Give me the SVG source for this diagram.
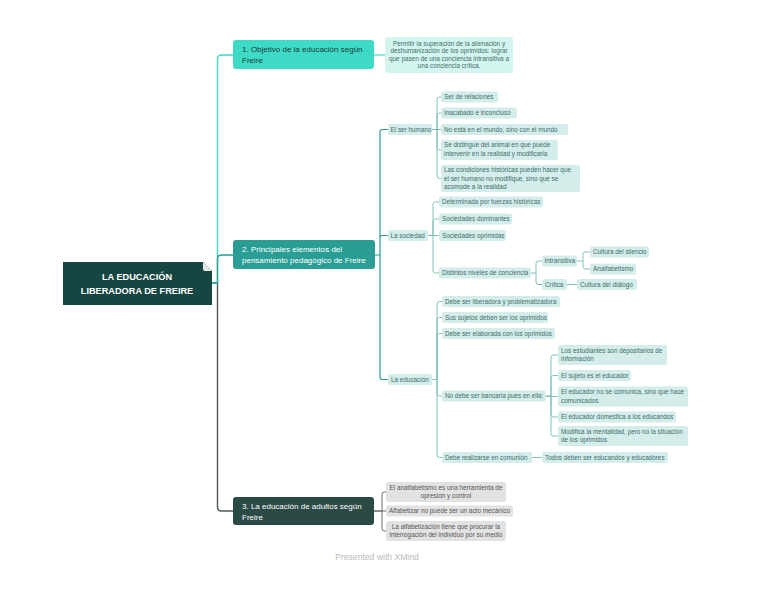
<svg xmlns="http://www.w3.org/2000/svg" width="768" height="594" viewBox="0 0 768 594">
<style>
.t{font-family:"Liberation Sans",Arial,sans-serif;font-size:6.35px;fill:#3d6f6b}
.tc{text-anchor:middle}
.sub{fill:#d4ecea}
.gr{fill:#e2e2e2}
.gt{font-family:"Liberation Sans",Arial,sans-serif;font-size:6.4px;fill:#555;text-anchor:middle}
.main{font-family:"Liberation Sans",Arial,sans-serif;font-size:8px}
.rt{font-family:"Liberation Sans",Arial,sans-serif;font-size:9.2px;font-weight:bold;fill:#ffffff;text-anchor:middle}
.c2{fill:none;stroke:#74bbb5;stroke-width:0.9}
.c3{fill:none;stroke:#5a5f5e;stroke-width:0.9}
</style>
<rect width="768" height="594" fill="#ffffff"/>
<g id="connectors">
<path d="M212,283 H217.5 V507 Q217.5,511 221.5,511 H233" fill="none" stroke="#4d5856" stroke-width="1.4"/>
<path d="M212,283 H217.5 V59 Q217.5,55 221.5,55 H233" fill="none" stroke="#3ddac6" stroke-width="1.4"/>
<path d="M212,283 H217.5 V259 Q217.5,255 221.5,255 H233" fill="none" stroke="#2a9d95" stroke-width="1.4"/>
<path d="M374,55 H385" fill="none" stroke="#3ddac6" stroke-width="1.2"/>
<path d="M375,255 H380 V132 Q380,129.5 382.5,129.5 H388 M375,255 H380 V238 Q380,235.5 382.5,235.5 H388 M375,255 H380 V377 Q380,379.5 382.5,379.5 H388" fill="none" stroke="#2a9d95" stroke-width="1.2"/>
<path class="c2" d="M432,129.5 H437 V99.5 Q437,97 439.5,97 H441 M437,129.5 V115.5 Q437,113 439.5,113 H441 M432,129.5 H441 M437,129.5 V147.5 Q437,150 439.5,150 H441 M437,129.5 V176 Q437,178.5 439.5,178.5 H441"/>
<path class="c2" d="M428,235.5 H433 V204.5 Q433,202 435.5,202 H439 M433,235.5 V221.5 Q433,219 435.5,219 H439 M428,235.5 H439 M433,235.5 V270.5 Q433,273 435.5,273 H439"/>
<path class="c2" d="M530,273 H536 V263.5 Q536,261 538.5,261 H542 M536,273 V282 Q536,284.5 538.5,284.5 H542"/>
<path class="c2" d="M577,261 H583 V254.5 Q583,252 585.5,252 H590 M583,261 V266.5 Q583,269 585.5,269 H590"/>
<path class="c2" d="M567,284.5 H577"/>
<path class="c2" d="M432,379.5 H437 V304 Q437,301.5 439.5,301.5 H442 M437,379.5 V320 Q437,317.5 439.5,317.5 H442 M437,379.5 V336 Q437,333.5 439.5,333.5 H442 M437,379.5 V393.5 Q437,396 439.5,396 H442 M437,379.5 V455 Q437,457.5 439.5,457.5 H442"/>
<path class="c2" d="M546,396 H551 V357.5 Q551,355 553.5,355 H558 M551,396 V378 Q551,375.5 553.5,375.5 H558 M546,396.5 H558 M551,396 V414.5 Q551,417 553.5,417 H558 M551,396 V433.5 Q551,436 553.5,436 H558"/>
<path class="c2" d="M532,457.5 H542"/>
<path class="c3" d="M374,511 H382 V494.5 Q382,492 384.5,492 H386 M374,511 H386 M382,511 V528.5 Q382,531 384.5,531 H386"/>
</g>
<g id="root">
<path d="M63,262 H203 L212,271 V305 H63 Z" fill="#174541"/>
<path d="M203,262 L212,271 H205 Q203,271 203,269 Z" fill="#e4eceb"/>
<text class="rt" x="137" y="279.5">LA EDUCACIÓN</text>
<text class="rt" x="137" y="293.5">LIBERADORA DE FREIRE</text>
</g>
<g id="s1">
<rect x="233" y="40" width="141" height="29" rx="3" fill="#3ddac6"/>
<text class="main" x="242" y="52" fill="#1f3b37">1. Objetivo de la educación según</text>
<text class="main" x="242" y="63" fill="#1f3b37">Freire</text>
</g>
<g id="s1c">
<rect x="385" y="37" width="128" height="36" rx="3" fill="#d4f5ef"/>
<text class="t tc" x="449" y="45.5">Permitir la superación de la alienación y</text>
<text class="t tc" x="449" y="53">deshumanización de los oprimidos: lograr</text>
<text class="t tc" x="449" y="60.5">que pasen de una conciencia intransitiva a</text>
<text class="t tc" x="449" y="68">una conciencia crítica.</text>
</g>
<g id="s2">
<rect x="233" y="240" width="142" height="29" rx="3" fill="#2a9d95"/>
<text class="main" x="242" y="251.5" fill="#ffffff">2. Principales elementos del</text>
<text class="main" x="242" y="262.5" fill="#ffffff">pensamiento pedagógico de Freire</text>
</g>
<g id="ser">
<rect class="sub" x="388" y="124" width="44" height="11" rx="2.5"/>
<text class="t" x="390.5" y="131.8">El ser humano</text>
</g>
<g id="ser1"><rect class="sub" x="441" y="91.5" width="57" height="11" rx="2.5"/><text class="t" x="444" y="99.3">Ser de relaciones</text></g>
<g id="ser2"><rect class="sub" x="441" y="107.5" width="76" height="11" rx="2.5"/><text class="t" x="444" y="115.3">Inacabado e inconcluso</text></g>
<g id="ser3"><rect class="sub" x="441" y="124" width="127" height="11" rx="2.5"/><text class="t" x="444" y="131.8">No está en el mundo, sino con el mundo</text></g>
<g id="ser4"><rect class="sub" x="441" y="140" width="117" height="20" rx="2.5"/><text class="t" x="444" y="147.4">Se distingue del animal en que puede</text><text class="t" x="444" y="156.1">intervenir en la realidad y modificarla</text></g>
<g id="ser5"><rect class="sub" x="441" y="165" width="139" height="27" rx="2.5"/><text class="t" x="444" y="172.4">Las condiciones históricas pueden hacer que</text><text class="t" x="444" y="180.9">el ser humano no modifique, sino que se</text><text class="t" x="444" y="189.1">acomode a la realidad</text></g>
<g id="soc">
<rect class="sub" x="388" y="230" width="40" height="11" rx="2.5"/>
<text class="t" x="390.5" y="237.8">La sociedad</text>
</g>
<g id="soc1"><rect class="sub" x="439" y="196.5" width="104" height="11" rx="2.5"/><text class="t" x="442" y="204.3">Determinada por fuerzas históricas</text></g>
<g id="soc2"><rect class="sub" x="439" y="213.5" width="73" height="11" rx="2.5"/><text class="t" x="442" y="221.3">Sociedades dominantes</text></g>
<g id="soc3"><rect class="sub" x="439" y="230" width="67" height="11" rx="2.5"/><text class="t" x="442" y="237.8">Sociedades oprimidas</text></g>
<g id="soc4"><rect class="sub" x="439" y="267.5" width="92" height="11" rx="2.5"/><text class="t" x="442" y="275.3">Distintos niveles de conciencia</text></g>
<g id="intr"><rect class="sub" x="542" y="255.5" width="35" height="11" rx="2.5"/><text class="t" x="544.5" y="263.3">Intransitiva</text></g>
<g id="sil"><rect class="sub" x="590" y="246.5" width="59" height="11" rx="2.5"/><text class="t" x="593" y="254.3">Cultura del silencio</text></g>
<g id="anal"><rect class="sub" x="590" y="263.5" width="46" height="11" rx="2.5"/><text class="t" x="593" y="271.3">Analfabetismo</text></g>
<g id="crit"><rect class="sub" x="542" y="279" width="25" height="11" rx="2.5"/><text class="t" x="545" y="286.8">Crítica</text></g>
<g id="dial"><rect class="sub" x="577" y="279" width="60" height="11" rx="2.5"/><text class="t" x="580" y="286.8">Cultura del diálogo</text></g>
<g id="edu">
<rect class="sub" x="388" y="374" width="44" height="11" rx="2.5"/>
<text class="t" x="391" y="381.8">La educación</text>
</g>
<g id="edu1"><rect class="sub" x="442" y="296" width="118" height="11" rx="2.5"/><text class="t" x="445" y="303.8">Debe ser liberadora y problematizadora</text></g>
<g id="edu2"><rect class="sub" x="442" y="312" width="106" height="11" rx="2.5"/><text class="t" x="445" y="319.8">Sus sujetos deben ser los oprimidos</text></g>
<g id="edu3"><rect class="sub" x="442" y="328" width="113" height="11" rx="2.5"/><text class="t" x="445" y="335.8">Debe ser elaborada con los oprimidos</text></g>
<g id="edu4"><rect class="sub" x="442" y="390.5" width="104" height="11" rx="2.5"/><text class="t" x="445" y="398.3">No debe ser bancaria pues en ella:</text></g>
<g id="edu5"><rect class="sub" x="442" y="452" width="90" height="11" rx="2.5"/><text class="t" x="445" y="459.8">Debe realizarse en comunión</text></g>
<g id="ban1"><rect class="sub" x="558" y="345" width="109" height="20" rx="2.5"/><text class="t" x="561" y="352.9">Los estudiantes son depositarios de</text><text class="t" x="561" y="361.1">información</text></g>
<g id="ban2"><rect class="sub" x="558" y="370" width="73" height="11" rx="2.5"/><text class="t" x="561" y="377.8">El sujeto es el educador</text></g>
<g id="ban3"><rect class="sub" x="558" y="386.5" width="130" height="20" rx="2.5"/><text class="t" x="561" y="394.4">El educador no se comunica, sino que hace</text><text class="t" x="561" y="402.7">comunicados</text></g>
<g id="ban4"><rect class="sub" x="558" y="411.5" width="118" height="11" rx="2.5"/><text class="t" x="561" y="419.3">El educador domestica a los educandos</text></g>
<g id="ban5"><rect class="sub" x="558" y="426" width="130" height="20" rx="2.5"/><text class="t" x="561" y="433.9">Modifica la mentalidad, pero no la situación</text><text class="t" x="561" y="442.2">de los oprimidos</text></g>
<g id="todos"><rect class="sub" x="542" y="452" width="126" height="11" rx="2.5"/><text class="t" x="545" y="459.8">Todos deben ser educandos y educadores</text></g>
<g id="s3">
<rect x="233" y="497" width="141" height="28" rx="3" fill="#2c4a45"/>
<text class="main" x="242" y="508.5" fill="#ffffff">3. La educación de adultos según</text>
<text class="main" x="242" y="519.5" fill="#ffffff">Freire</text>
</g>
<g id="ad1"><rect class="gr" x="386" y="482" width="120" height="20" rx="2.5"/><text class="gt" x="446" y="489.9">El analfabetismo es una herramienta de</text><text class="gt" x="446" y="497.7">opresión y control</text></g>
<g id="ad2"><rect class="gr" x="386" y="505.5" width="127" height="11" rx="2.5"/><text class="gt" x="449.5" y="513.3">Alfabetizar no puede ser un acto mecánico</text></g>
<g id="ad3"><rect class="gr" x="386" y="521" width="120" height="20" rx="2.5"/><text class="gt" x="446" y="528.9">La alfabetización tiene que procurar la</text><text class="gt" x="446" y="536.7">interrogación del individuo por su medio</text></g>
<text x="377" y="560" text-anchor="middle" font-family="Liberation Sans, Arial, sans-serif" font-size="8.6" fill="#bbbbbb">Presented with XMind</text>
</svg>
